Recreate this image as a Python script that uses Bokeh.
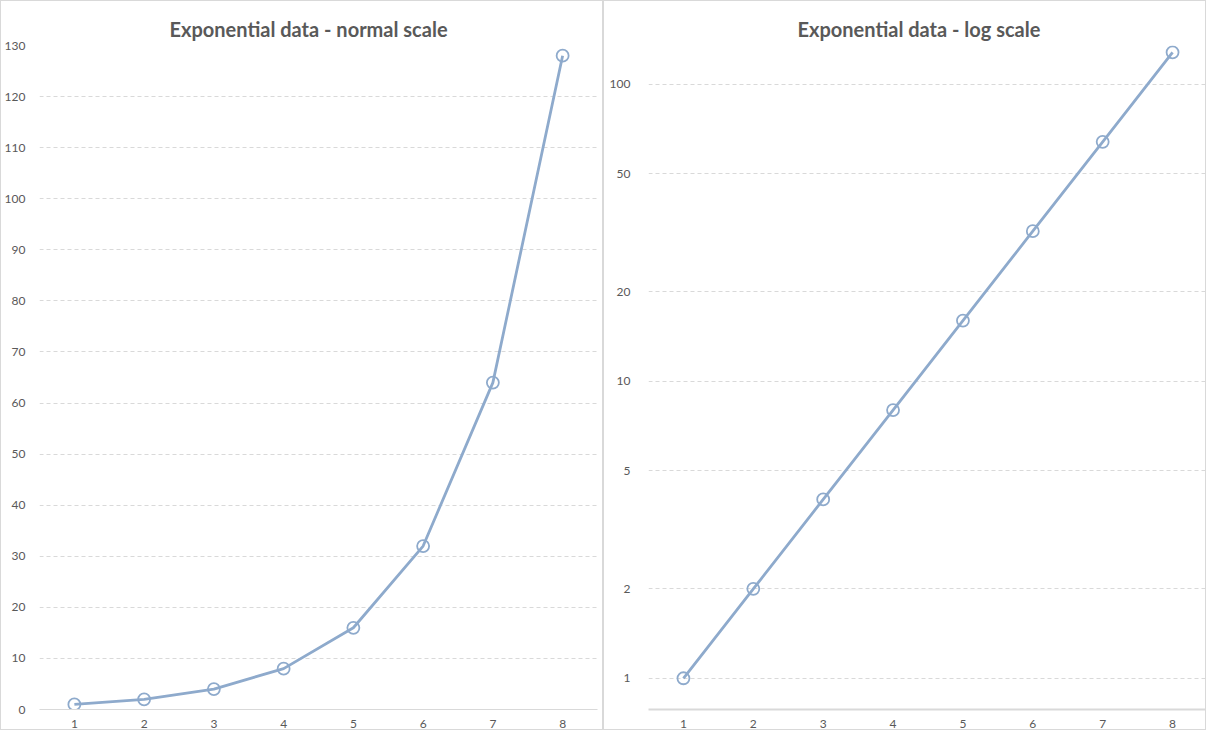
from bokeh.plotting import figure
from bokeh.models import FixedTicker, Range1d, ColumnDataSource
from bokeh.layouts import row
from bokeh.embed import file_html
from bokeh.resources import INLINE

x_vals = [1, 2, 3, 4, 5, 6, 7, 8]
y_vals = [1, 2, 4, 8, 16, 32, 64, 128]
x_ticks = [1, 2, 3, 4, 5, 6, 7, 8]
lin_ticks = [0, 10, 20, 30, 40, 50, 60, 70, 80, 90, 100, 110, 120, 130]
log_ticks = [1, 2, 5, 10, 20, 50, 100]
titles = ["Exponential data - normal scale", "Exponential data - log scale"]

LINE = "#8eaacc"
GRID = "#d9d9d9"
TXT = "#595959"
FONT = "Lato"


def make(title, log, width, left, right, toff):
    kw = dict(y_axis_type="log") if log else {}
    p = figure(width=width, height=730, output_backend="svg", toolbar_location=None,
               min_border_left=left, min_border_right=right, min_border_top=44,
               min_border_bottom=22, **kw)
    p.x_range = Range1d(0.5, 8.5)
    if log:
        p.y_range = Range1d(0.785, 135)
    else:
        p.y_range = Range1d(0, 130)
    p.title.text = title
    p.title.align = "left"
    p.title.text_font = FONT
    p.title.text_font_size = "20px"
    p.title.text_font_style = "bold"
    p.title.text_color = TXT
    p.title.offset = toff
    p.outline_line_color = None
    src = ColumnDataSource(dict(x=x_vals, y=y_vals))
    p.line("x", "y", source=src, line_color=LINE, line_width=2.8)
    p.scatter("x", "y", source=src, size=12, fill_color="white", fill_alpha=0.0,
              line_color=LINE, line_width=1.8)
    p.xaxis.ticker = FixedTicker(ticks=x_ticks)
    p.yaxis.ticker = FixedTicker(ticks=log_ticks if log else lin_ticks, minor_ticks=[])
    for ax in (p.xaxis[0], p.yaxis[0]):
        ax.major_tick_line_color = None
        ax.minor_tick_line_color = None
        ax.major_label_text_font = FONT
        ax.major_label_text_font_size = "12px"
        ax.major_label_text_color = TXT
    p.yaxis.axis_line_color = None
    p.yaxis.major_label_standoff = 8 if not log else 12
    p.xaxis.axis_line_color = GRID
    p.xaxis.axis_line_width = 2 if log else 1
    p.xaxis.major_label_standoff = 4
    p.xgrid.grid_line_color = None
    p.ygrid.grid_line_color = GRID
    p.ygrid.grid_line_dash = "4 3"
    p.ygrid.grid_line_width = 1
    p.ygrid.ticker = FixedTicker(ticks=log_ticks if log else lin_ticks, minor_ticks=[])
    p.styles = {"border": "1px solid #d9d9d9"}
    return p


p1 = make(titles[0], False, 603, 36, 7, 130)
p2 = make(titles[1], True, 603, 44, 0, 149)
layout = row(p1, p2, spacing=0)

with open("out.html", "w") as f:
    f.write(file_html(layout, INLINE))
